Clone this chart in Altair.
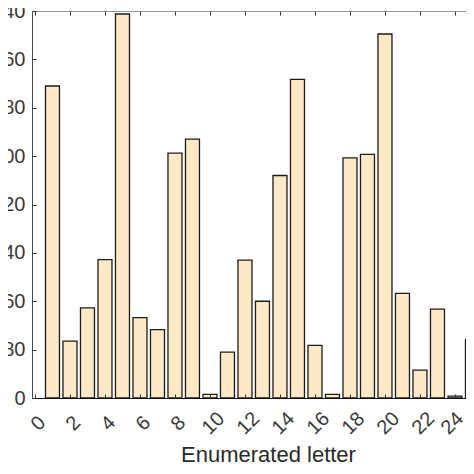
import altair as alt
import pandas as pd

letters = list(range(1, 26))
counts = [516, 94, 149, 229, 635, 133, 113, 405, 428, 6, 76, 228, 160,
          368, 527, 87, 6, 397, 403, 602, 173, 46, 147, 3, 97]
x_ticks = list(range(0, 25, 2))
y_ticks = list(range(0, 641, 80))

df = pd.DataFrame({"letter": letters, "count": counts})

W, H = 434, 387
FONT = "Liberation Sans"
xscale = alt.Scale(domain=[-0.17, 24.63], nice=False, zero=False)
yscale = alt.Scale(domain=[0, 640], nice=False)

base = alt.Chart(df).transform_calculate(
    x0="datum.letter - 0.4", x1="datum.letter + 0.4"
)

bars = base.mark_bar(
    fill="#FDE9C6", stroke="#1c1c1c", strokeWidth=1.3, clip=True
).encode(
    x=alt.X("x0:Q", scale=xscale, axis=alt.Axis(
        orient="bottom", values=x_ticks, title="Enumerated letter",
        ticks=False, tickSize=0, grid=False,
        domainColor="#111111", domainWidth=1,
        labelAngle=315, labelAlign="center", labelBaseline="middle",
        labelPadding=25,
        labelOffset={"condition": {"test": "datum.value >= 24", "value": -3},
                     "value": 3},
        labelFontSize=20, labelFont=FONT,
        labelColor="#3a3a3a", labelFlush=False, labelOverlap=False,
        titleFont=FONT, titleFontSize=22, titleFontWeight="normal",
        titleColor="#2a2a2a", titleX=236, titleY=63,
        titleAlign="center", titleBaseline="alphabetic")),
    x2="x1:Q",
    y=alt.Y("count:Q", scale=yscale, axis=alt.Axis(
        orient="left", values=y_ticks, title=None,
        ticks=False, tickSize=0, grid=False,
        domainColor="#4a4a4a", domainWidth=1,
        labelPadding=7, labelFontSize=20, labelFont=FONT,
        labelColor="#3a3a3a", labelFlush=False, labelOverlap=False)),
    y2=alt.datum(0),
)

# inward ticks along the top edge and the left edge
ticks_top_left = base.mark_bar(opacity=0).encode(
    x=alt.X("x0:Q", scale=xscale, axis=alt.Axis(
        orient="bottom", offset=-H, values=x_ticks, title=None,
        labels=False, ticks=True, tickSize=4, tickColor="#333333",
        grid=False, domainColor="#8a9898", domainWidth=1.2, zindex=1)),
    x2="x1:Q",
    y=alt.Y("count:Q", scale=yscale, axis=alt.Axis(
        orient="right", offset=-W, values=y_ticks, title=None,
        labels=False, ticks=True, tickSize=4, tickColor="#333333",
        grid=False, domain=False, zindex=1)),
    y2=alt.datum(0),
)

# inward ticks along the bottom edge
ticks_bottom = base.mark_bar(opacity=0).encode(
    x=alt.X("x0:Q", scale=xscale, axis=alt.Axis(
        orient="top", offset=-H, values=x_ticks, title=None,
        labels=False, ticks=True, tickSize=4, tickColor="#333333",
        grid=False, domain=False, zindex=1)),
    x2="x1:Q",
    y=alt.Y("count:Q", scale=yscale, axis=None),
    y2=alt.datum(0),
)

chart = alt.layer(bars, ticks_top_left, ticks_bottom).resolve_axis(
    x="independent", y="independent"
).properties(
    width=W, height=H,
    autosize=alt.AutoSizeParams(type="none"),
    padding={"left": 24, "top": 3, "right": 0, "bottom": 68},
).configure_view(stroke=None).configure(background="white")

chart.save("out.html", embed_options={"renderer": "svg", "actions": False})
